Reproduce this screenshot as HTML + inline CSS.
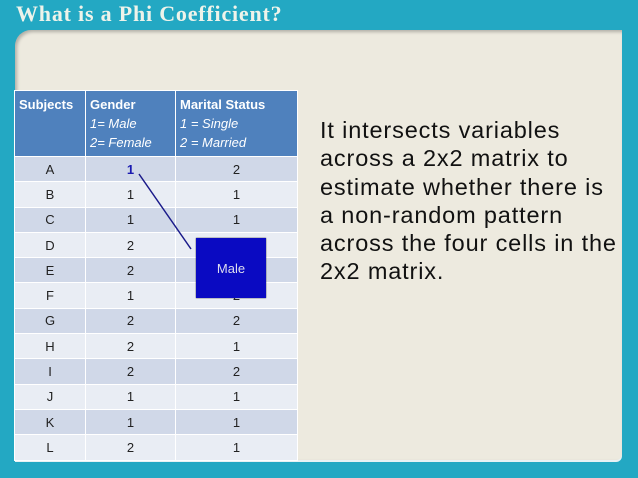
<!DOCTYPE html>
<html><head><meta charset="utf-8"><style>
body{margin:0;width:638px;height:478px;overflow:hidden;background:#23a8c3;font-family:"Liberation Sans",sans-serif;position:relative}
.title{position:absolute;left:16px;top:1px;color:#eef3ea;font:bold 22px "Liberation Serif",serif;letter-spacing:0.8px}
.panel{position:absolute;left:15px;top:30px;width:607px;height:430px;background:#edeadf;border-radius:16px 0 6px 0;box-shadow:inset 2px 2px 3px rgba(0,0,0,0.25), 0 2px 0 #e8f2f4}
table{position:absolute;left:14px;top:90px;border-collapse:collapse;font-size:13px;color:#222;table-layout:fixed;width:283px}
td{border:1px solid #fff;height:24.3px;padding:0;text-align:center}
th{background:#4f81bd;color:#fff;text-align:left;vertical-align:top;font-weight:bold;padding:4px 4px;border:1px solid #fff;height:53px;font-size:13px;line-height:19px;overflow:hidden;white-space:nowrap}
th i{font-weight:normal}
tr.d td{background:#d0d8e8}tr.l td{background:#e9edf4}
.txt{position:absolute;left:320px;top:116px;font-size:23.5px;line-height:28.3px;color:#111;letter-spacing:0.85px;white-space:nowrap}
.male{position:absolute;left:196px;top:238px;width:70px;height:60px;background:#0a0ac2;color:#dde;font-size:13px;display:flex;align-items:center;justify-content:center;box-shadow:0 0 1px #000}
</style></head><body>
<div class="title">What is a Phi Coefficient?</div>
<div class="panel"></div>
<table>
<colgroup><col style="width:71px"><col style="width:90px"><col style="width:122px"></colgroup>
<tr><th>Subjects</th><th>Gender<br><i>1= Male<br>2= Female</i></th><th>Marital Status<br><i>1 = Single<br>2 = Married</i></th></tr>
<tr class="d"><td>A</td><td style="color:#1a1ab0;font-weight:bold">1</td><td>2</td></tr>
<tr class="l"><td>B</td><td>1</td><td>1</td></tr>
<tr class="d"><td>C</td><td>1</td><td>1</td></tr>
<tr class="l"><td>D</td><td>2</td><td>2</td></tr>
<tr class="d"><td>E</td><td>2</td><td>2</td></tr>
<tr class="l"><td>F</td><td>1</td><td>2</td></tr>
<tr class="d"><td>G</td><td>2</td><td>2</td></tr>
<tr class="l"><td>H</td><td>2</td><td>1</td></tr>
<tr class="d"><td>I</td><td>2</td><td>2</td></tr>
<tr class="l"><td>J</td><td>1</td><td>1</td></tr>
<tr class="d"><td>K</td><td>1</td><td>1</td></tr>
<tr class="l"><td>L</td><td>2</td><td>1</td></tr>
</table>
<svg width="638" height="478" style="position:absolute;left:0;top:0"><line x1="139" y1="174" x2="191" y2="249" stroke="#1a1a8a" stroke-width="1.5"/></svg>
<div class="male">Male</div>
<div class="txt">It intersects variables<br>across a 2x2 matrix to<br>estimate whether there is<br>a non-random pattern<br>across the four cells in the<br>2x2 matrix.</div>
</body></html>
